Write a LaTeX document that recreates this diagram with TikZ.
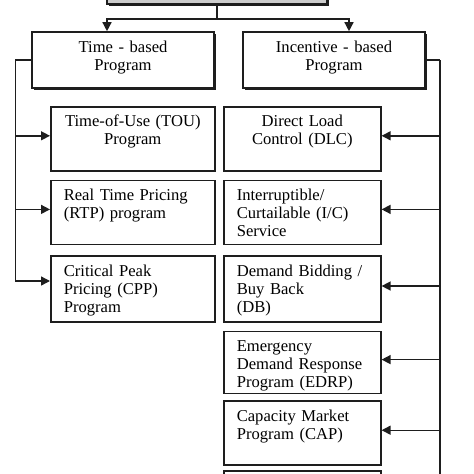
\documentclass[tikz,border=0pt]{standalone}
\usepackage{fontspec}
\setmainfont{Liberation Serif}
\usetikzlibrary{arrows.meta, positioning, shadows}
\definecolor{ink}{HTML}{1E1E1E}
\definecolor{headfill}{HTML}{CDCDCD}

\begin{document}
\begin{tikzpicture}[x=1pt, y=-1pt,
  font=\fontsize{16.6}{18}\selectfont,
  cat/.style={draw=ink, line width=1.6pt, fill=white, minimum width=182pt,
              text width=168pt, align=center, inner xsep=7pt, inner ysep=7pt,
              text height=13pt, text depth=29pt,
              drop shadow={shadow xshift=2.2pt, shadow yshift=-2.2pt, fill=ink, opacity=1}},
  prog/.style={draw=ink, line width=1.6pt, inner xsep=13pt, inner ysep=7pt,
               text height=13pt, text depth=#1, anchor=north west},
  prog/.default=37pt,
  lprog/.style={prog=#1, text width=138pt, align=left},
  lprog/.default=37pt,
  rprog/.style={prog=#1, text width=131pt, align=left},
  rprog/.default=37pt,
  link/.style={draw=ink, line width=1.4pt},
  arr/.style={link, -{Triangle[length=9pt, width=9pt]}}
]
  \clip (0,0) rectangle (474,474);

  % heading box, cut off by the top edge
  \node[draw=ink, line width=1.6pt, fill=headfill, minimum width=220pt, minimum height=40pt,
        drop shadow={shadow xshift=2pt, shadow yshift=-2pt, fill=ink, opacity=1}]
        (dr) at (217,-16) {};

  % the two kinds of programs
  \node[cat] (tb) at (123,60) {Time - based\\Program};
  \node[cat] (ib) at (334,60) {Incentive - based\\Program};

  % time-based column
  \node[lprog, align=center] (tou) at (50,106) {Time-of-Use (TOU)\\Program};
  \node[lprog, below=8pt of tou.south west, anchor=north west] (rtp) {Real Time Pricing\\(RTP) program};
  \node[lprog=39pt, below=10pt of rtp.south west, anchor=north west] (cpp) {Critical Peak\\Pricing (CPP)\\Program};

  % incentive-based column
  \node[rprog, align=center] (dlc) at (223,106) {Direct Load\\Control (DLC)};
  \node[rprog, below=8pt of dlc.south west, anchor=north west] (ic) {Interruptible/\\Curtailable (I/C)\\Service};
  \node[rprog=39pt, below=10pt of ic.south west, anchor=north west] (db) {Demand Bidding /\\Buy Back\\(DB)};
  \node[rprog=35pt, below=8pt of db.south west, anchor=north west] (edrp) {Emergency\\Demand Response\\Program (EDRP)};
  \node[rprog, below=6pt of edrp.south west, anchor=north west] (cap) {Capacity Market\\Program (CAP)};
  \node[rprog, below=4pt of cap.south west, anchor=north west] (as) {Ancillary Services\\Market (A/S)};

  % connectors
  \draw[link] (dr.south) -- ++(0,14) coordinate (split);
  \draw[arr] (split) -| ([xshift=-16pt]tb.north);
  \draw[arr] (split) -| ([xshift=15pt]ib.north);

  \draw[link] (tb.west) -- ++(-16,0) coordinate (lbus);
  \draw[arr] (lbus) |- ([yshift=3pt]tou.west);
  \draw[arr] (lbus) |- ([yshift=3pt]rtp.west);
  \draw[arr] (lbus) |- ([yshift=8pt]cpp.west);

  \draw[link] (ib.east) -- ++(14,0) coordinate (rbus);
  \foreach \p in {dlc, ic, db, edrp, cap, as}
    \draw[arr] (rbus) |- ([yshift=3pt]\p.east);
\end{tikzpicture}
\end{document}
